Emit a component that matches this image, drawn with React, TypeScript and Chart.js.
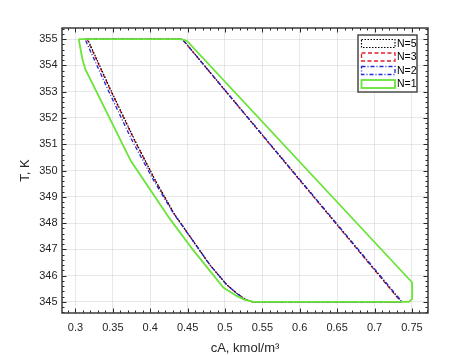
import React, { useEffect, useRef } from 'react';
import { Chart, registerables } from 'chart.js';

Chart.register(...registerables);

// ---- tick values / labels ----
const xTicks = [0.3, 0.35, 0.4, 0.45, 0.5, 0.55, 0.6, 0.65, 0.7, 0.75];
const xTickLabels = ['0.3', '0.35', '0.4', '0.45', '0.5', '0.55', '0.6', '0.65', '0.7', '0.75'];
const yTicks = [345, 346, 347, 348, 349, 350, 351, 352, 353, 354, 355];
const yTickLabels = ['345', '346', '347', '348', '349', '350', '351', '352', '353', '354', '355'];

// ---- series (closed boundaries: cA [kmol/m3], T [K]) ----
const n5CA = [0.3162, 0.441, 0.444, 0.7362, 0.537, 0.527, 0.5156, 0.5025, 0.48, 0.4578, 0.4322, 0.4073, 0.3785, 0.3466, 0.3162];
const n5T = [355, 355, 354.96, 345, 345, 345.1, 345.33, 345.65, 346.4, 347.3, 348.35, 349.6, 351.2, 353.1, 355];

const n3CA = [0.3155, 0.441, 0.444, 0.7355, 0.537, 0.527, 0.5156, 0.5025, 0.48, 0.4578, 0.432, 0.407, 0.378, 0.346, 0.3155];
const n3T = [355, 355, 354.96, 345, 345, 345.1, 345.33, 345.65, 346.4, 347.3, 348.35, 349.6, 351.2, 353.1, 355];

const n2CA = [0.3127, 0.441, 0.444, 0.737, 0.537, 0.527, 0.5156, 0.5025, 0.48, 0.4578, 0.4315, 0.405, 0.3747, 0.343, 0.3127];
const n2T = [355, 355, 354.96, 345, 345, 345.1, 345.33, 345.65, 346.4, 347.3, 348.35, 349.6, 351.2, 353.1, 355];

const n1CA = [0.3044, 0.4402, 0.445, 0.4495, 0.7503, 0.7503, 0.746, 0.5378, 0.526, 0.5156, 0.4978, 0.4578, 0.4265, 0.3742, 0.313, 0.309, 0.3044];
const n1T = [355, 355, 354.97, 354.92, 345.74, 345.12, 345, 345, 345.09, 345.23, 345.55, 346.96, 348.15, 350.36, 353.86, 354.27, 355];

const seriesLabels = ['N=5', 'N=3', 'N=2', 'N=1'];

const FONT = "'Liberation Sans', Arial, Helvetica, sans-serif";
const AXIS_COLOR = '#262626';

const toPts = (xs: number[], ys: number[]) => xs.map((x, i) => ({ x, y: ys[i] }));

const seriesStyles = [
  { color: '#000000', dash: [1.5, 1.5], width: 1.2 },
  { color: 'rgb(228,28,40)', dash: [4, 2.5], width: 1.3 },
  { color: 'rgb(30,40,220)', dash: [4, 2, 1, 2], width: 1.3 },
  { color: 'rgb(105,228,55)', dash: [] as number[], width: 1.8 },
];

const framePlugin = {
  id: 'frameAndLegend',
  afterDatasetsDraw(chart: any) {
    const { ctx, chartArea } = chart;
    const { left, right, top, bottom } = chartArea;
    const xs = chart.scales.x;
    const ys = chart.scales.y;
    ctx.save();
    ctx.strokeStyle = AXIS_COLOR;
    ctx.lineWidth = 1;
    ctx.setLineDash([]);
    ctx.beginPath();
    for (let i = Math.ceil(xs.min * 100); i <= Math.floor(xs.max * 100); i++) {
      const len = i % 5 === 0 ? 4.5 : 2.5;
      const px = Math.round(xs.getPixelForValue(i / 100)) + 0.5;
      ctx.moveTo(px, bottom);
      ctx.lineTo(px, bottom - len);
      ctx.moveTo(px, top);
      ctx.lineTo(px, top + len);
    }
    for (let i = Math.ceil(ys.min * 5); i <= Math.floor(ys.max * 5); i++) {
      const len = i % 5 === 0 ? 4.5 : 2.5;
      const py = Math.round(ys.getPixelForValue(i / 5)) + 0.5;
      ctx.moveTo(left, py);
      ctx.lineTo(left + len, py);
      ctx.moveTo(right, py);
      ctx.lineTo(right - len, py);
    }
    ctx.stroke();
    ctx.lineWidth = 1.5;
    ctx.strokeStyle = '#3a3a3a';
    ctx.strokeRect(left, top, right - left, bottom - top);

    // legend
    const bx0 = right - 70;
    const bx1 = right - 11;
    const by0 = top + 7;
    const by1 = top + 64;
    ctx.fillStyle = '#ffffff';
    ctx.fillRect(bx0, by0, bx1 - bx0, by1 - by0);
    ctx.lineWidth = 1.5;
    ctx.strokeStyle = '#4a4a4a';
    ctx.strokeRect(bx0, by0, bx1 - bx0, by1 - by0);
    const rows = [8.5, 22, 35.5, 49];
    ctx.font = `10.5px ${FONT}`;
    ctx.textBaseline = 'middle';
    ctx.textAlign = 'left';
    seriesLabels.forEach((lab, i) => {
      const st = seriesStyles[i];
      const cy = by0 + rows[i];
      ctx.strokeStyle = st.color;
      ctx.lineWidth = st.width;
      ctx.setLineDash(st.dash);
      ctx.strokeRect(bx0 + 3.5, cy - 4, 33.5, 8);
      ctx.setLineDash([]);
      ctx.fillStyle = '#000';
      ctx.fillText(lab, bx0 + 39, cy + 0.5);
    });
    ctx.restore();
  },
};

export default function App() {
  const ref = useRef<HTMLCanvasElement | null>(null);
  useEffect(() => {
    if (!ref.current) return;
    const all = [
      { ca: n5CA, t: n5T, order: 2 },
      { ca: n3CA, t: n3T, order: 3 },
      { ca: n2CA, t: n2T, order: 1 },
      { ca: n1CA, t: n1T, order: 0 },
    ];
    const chart = new Chart(ref.current, {
      type: 'scatter',
      data: {
        datasets: all.map((s, i) => ({
          label: seriesLabels[i],
          data: toPts(s.ca, s.t),
          showLine: true,
          borderColor: seriesStyles[i].color,
          backgroundColor: seriesStyles[i].color,
          borderDash: seriesStyles[i].dash,
          borderWidth: seriesStyles[i].width,
          pointRadius: 0,
          pointHoverRadius: 0,
          fill: false,
          tension: 0,
          order: s.order,
        })),
      },
      options: {
        responsive: false,
        animation: false,
        layout: { padding: { left: 0, right: 46, top: 28, bottom: 0 } },
        plugins: { legend: { display: false }, tooltip: { enabled: false } },
        scales: {
          x: {
            type: 'linear',
            min: 0.282,
            max: 0.7715,
            afterBuildTicks: (s: any) => {
              s.ticks = xTicks.map((v) => ({ value: v }));
            },
            afterFit: (s: any) => {
              s.height = 42;
            },
            ticks: {
              callback: (_v: any, i: number) => xTickLabels[i],
              font: { family: FONT, size: 11 },
              color: AXIS_COLOR,
              padding: 8,
              maxRotation: 0,
              autoSkip: false,
            },
            grid: { color: 'rgba(0,0,0,0.09)', drawTicks: false, lineWidth: 1 },
            border: { display: false },
            title: {
              display: true,
              text: 'cA, kmol/m³',
              font: { family: FONT, size: 13, lineHeight: 1 },
              color: AXIS_COLOR,
              padding: { top: 0, bottom: 0 },
            },
          },
          y: {
            type: 'linear',
            min: 344.58,
            max: 355.42,
            afterBuildTicks: (s: any) => {
              s.ticks = yTicks.map((v) => ({ value: v }));
            },
            afterFit: (s: any) => {
              s.width = 62;
            },
            ticks: {
              callback: (_v: any, i: number) => yTickLabels[i],
              font: { family: FONT, size: 11 },
              color: AXIS_COLOR,
              padding: 4.5,
              autoSkip: false,
            },
            grid: { color: 'rgba(0,0,0,0.09)', drawTicks: false, lineWidth: 1 },
            border: { display: false },
            title: {
              display: true,
              text: 'T, K',
              font: { family: FONT, size: 13, lineHeight: 1 },
              color: AXIS_COLOR,
              padding: { top: 18.5, bottom: 0 },
            },
          },
        },
      },
      plugins: [framePlugin],
    });
    return () => chart.destroy();
  }, []);
  return (
    <div style={{ position: 'absolute', left: 0, top: 0, width: 474, height: 355, background: '#fff' }}>
      <canvas ref={ref} width={474} height={355} style={{ display: 'block' }} />
    </div>
  );
}
